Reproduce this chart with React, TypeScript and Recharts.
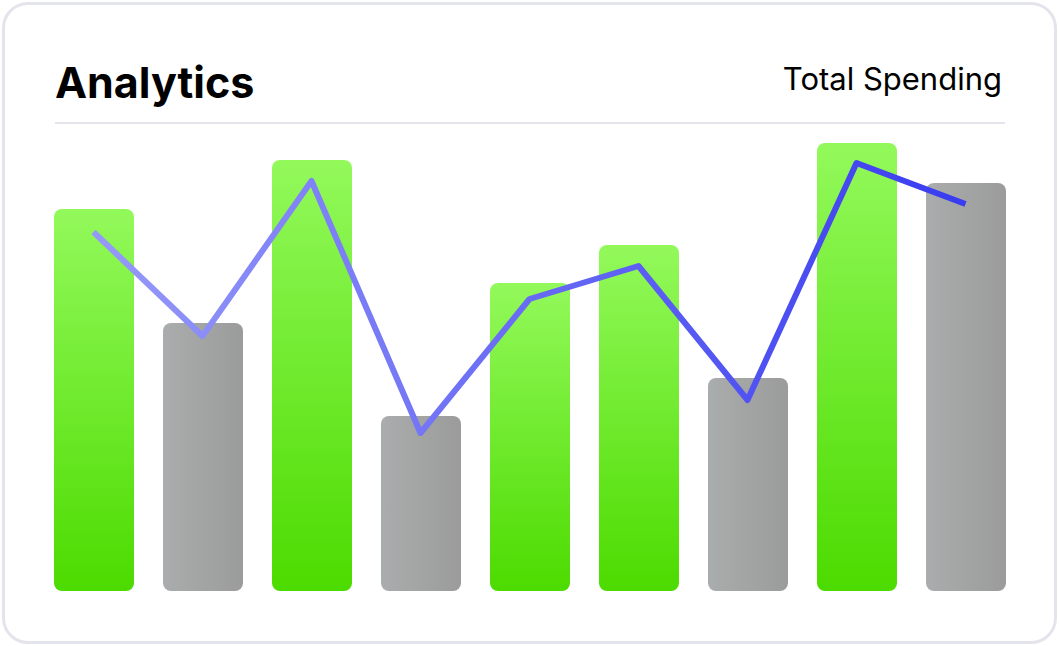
import React from 'react'
import { ComposedChart, Bar, Line, XAxis, YAxis, Cell } from 'recharts'

const months = ['Jan', 'Feb', 'Mar', 'Apr', 'May', 'Jun', 'Jul', 'Aug', 'Sep']
const spending = [382, 268, 431, 175, 308, 346, 213, 448, 408]
const trend = [359, 255, 410, 158, 292, 325, 191, 428, 387]
const highlighted = [true, false, true, false, true, true, false, true, false]

const data = months.map((m, i) => ({
  month: m,
  spending: spending[i],
  trend: trend[i],
  highlighted: highlighted[i],
}))

export default function App() {
  return (
    <div style={{ position: 'fixed', left: 0, top: 0, width: 1059, height: 646, background: '#fff', fontFamily: 'Inter, sans-serif' }}>
      <style>{'.trend-line path { stroke-linejoin: round; }'}</style>
      <div
        style={{
          position: 'absolute',
          left: 2,
          top: 2,
          width: 1055,
          height: 642,
          boxSizing: 'border-box',
          border: '3px solid #e4e4ec',
          borderRadius: 26,
        }}
      />
      <div style={{ position: 'absolute', left: 55, top: 54, fontSize: 43, fontWeight: 700, color: '#000', lineHeight: '56px' }}>
        Analytics
      </div>
      <div style={{ position: 'absolute', right: 57, top: 59, fontSize: 31, fontWeight: 400, color: '#000', lineHeight: '40px' }}>
        Total Spending
      </div>
      <div style={{ position: 'absolute', left: 55, top: 122, width: 950, height: 2, background: '#e4e4ec' }} />

      <div style={{ position: 'absolute', left: 38.5, top: 141 }}>
        <ComposedChart width={981} height={450} data={data} margin={{ top: 0, right: 0, bottom: 0, left: 0 }}>
          <defs>
            <linearGradient id="greenFill" x1="0" y1="0" x2="0" y2="1">
              <stop offset="0%" stopColor="#93f95b" />
              <stop offset="100%" stopColor="#4cdb00" />
            </linearGradient>
            <linearGradient id="grayFill" x1="0" y1="0" x2="1" y2="0">
              <stop offset="0%" stopColor="#aaadad" />
              <stop offset="100%" stopColor="#9b9b9b" />
            </linearGradient>
            <linearGradient id="lineStroke" x1="0" y1="0" x2="1" y2="0">
              <stop offset="0%" stopColor="#9799f9" />
              <stop offset="100%" stopColor="#393cef" />
            </linearGradient>
          </defs>
          <XAxis dataKey="month" hide />
          <YAxis hide domain={[0, 450]} />
          <Bar dataKey="spending" barSize={80} radius={8} isAnimationActive={false}>
            {data.map((d, i) => (
              <Cell key={i} fill={d.highlighted ? 'url(#greenFill)' : 'url(#grayFill)'} />
            ))}
          </Bar>
          <Line
            className="trend-line"
            type="linear"
            dataKey="trend"
            stroke="url(#lineStroke)"
            strokeWidth={6}
            strokeLinejoin="round"
            dot={false}
            activeDot={false}
            isAnimationActive={false}
          />
        </ComposedChart>
      </div>
    </div>
  )
}
